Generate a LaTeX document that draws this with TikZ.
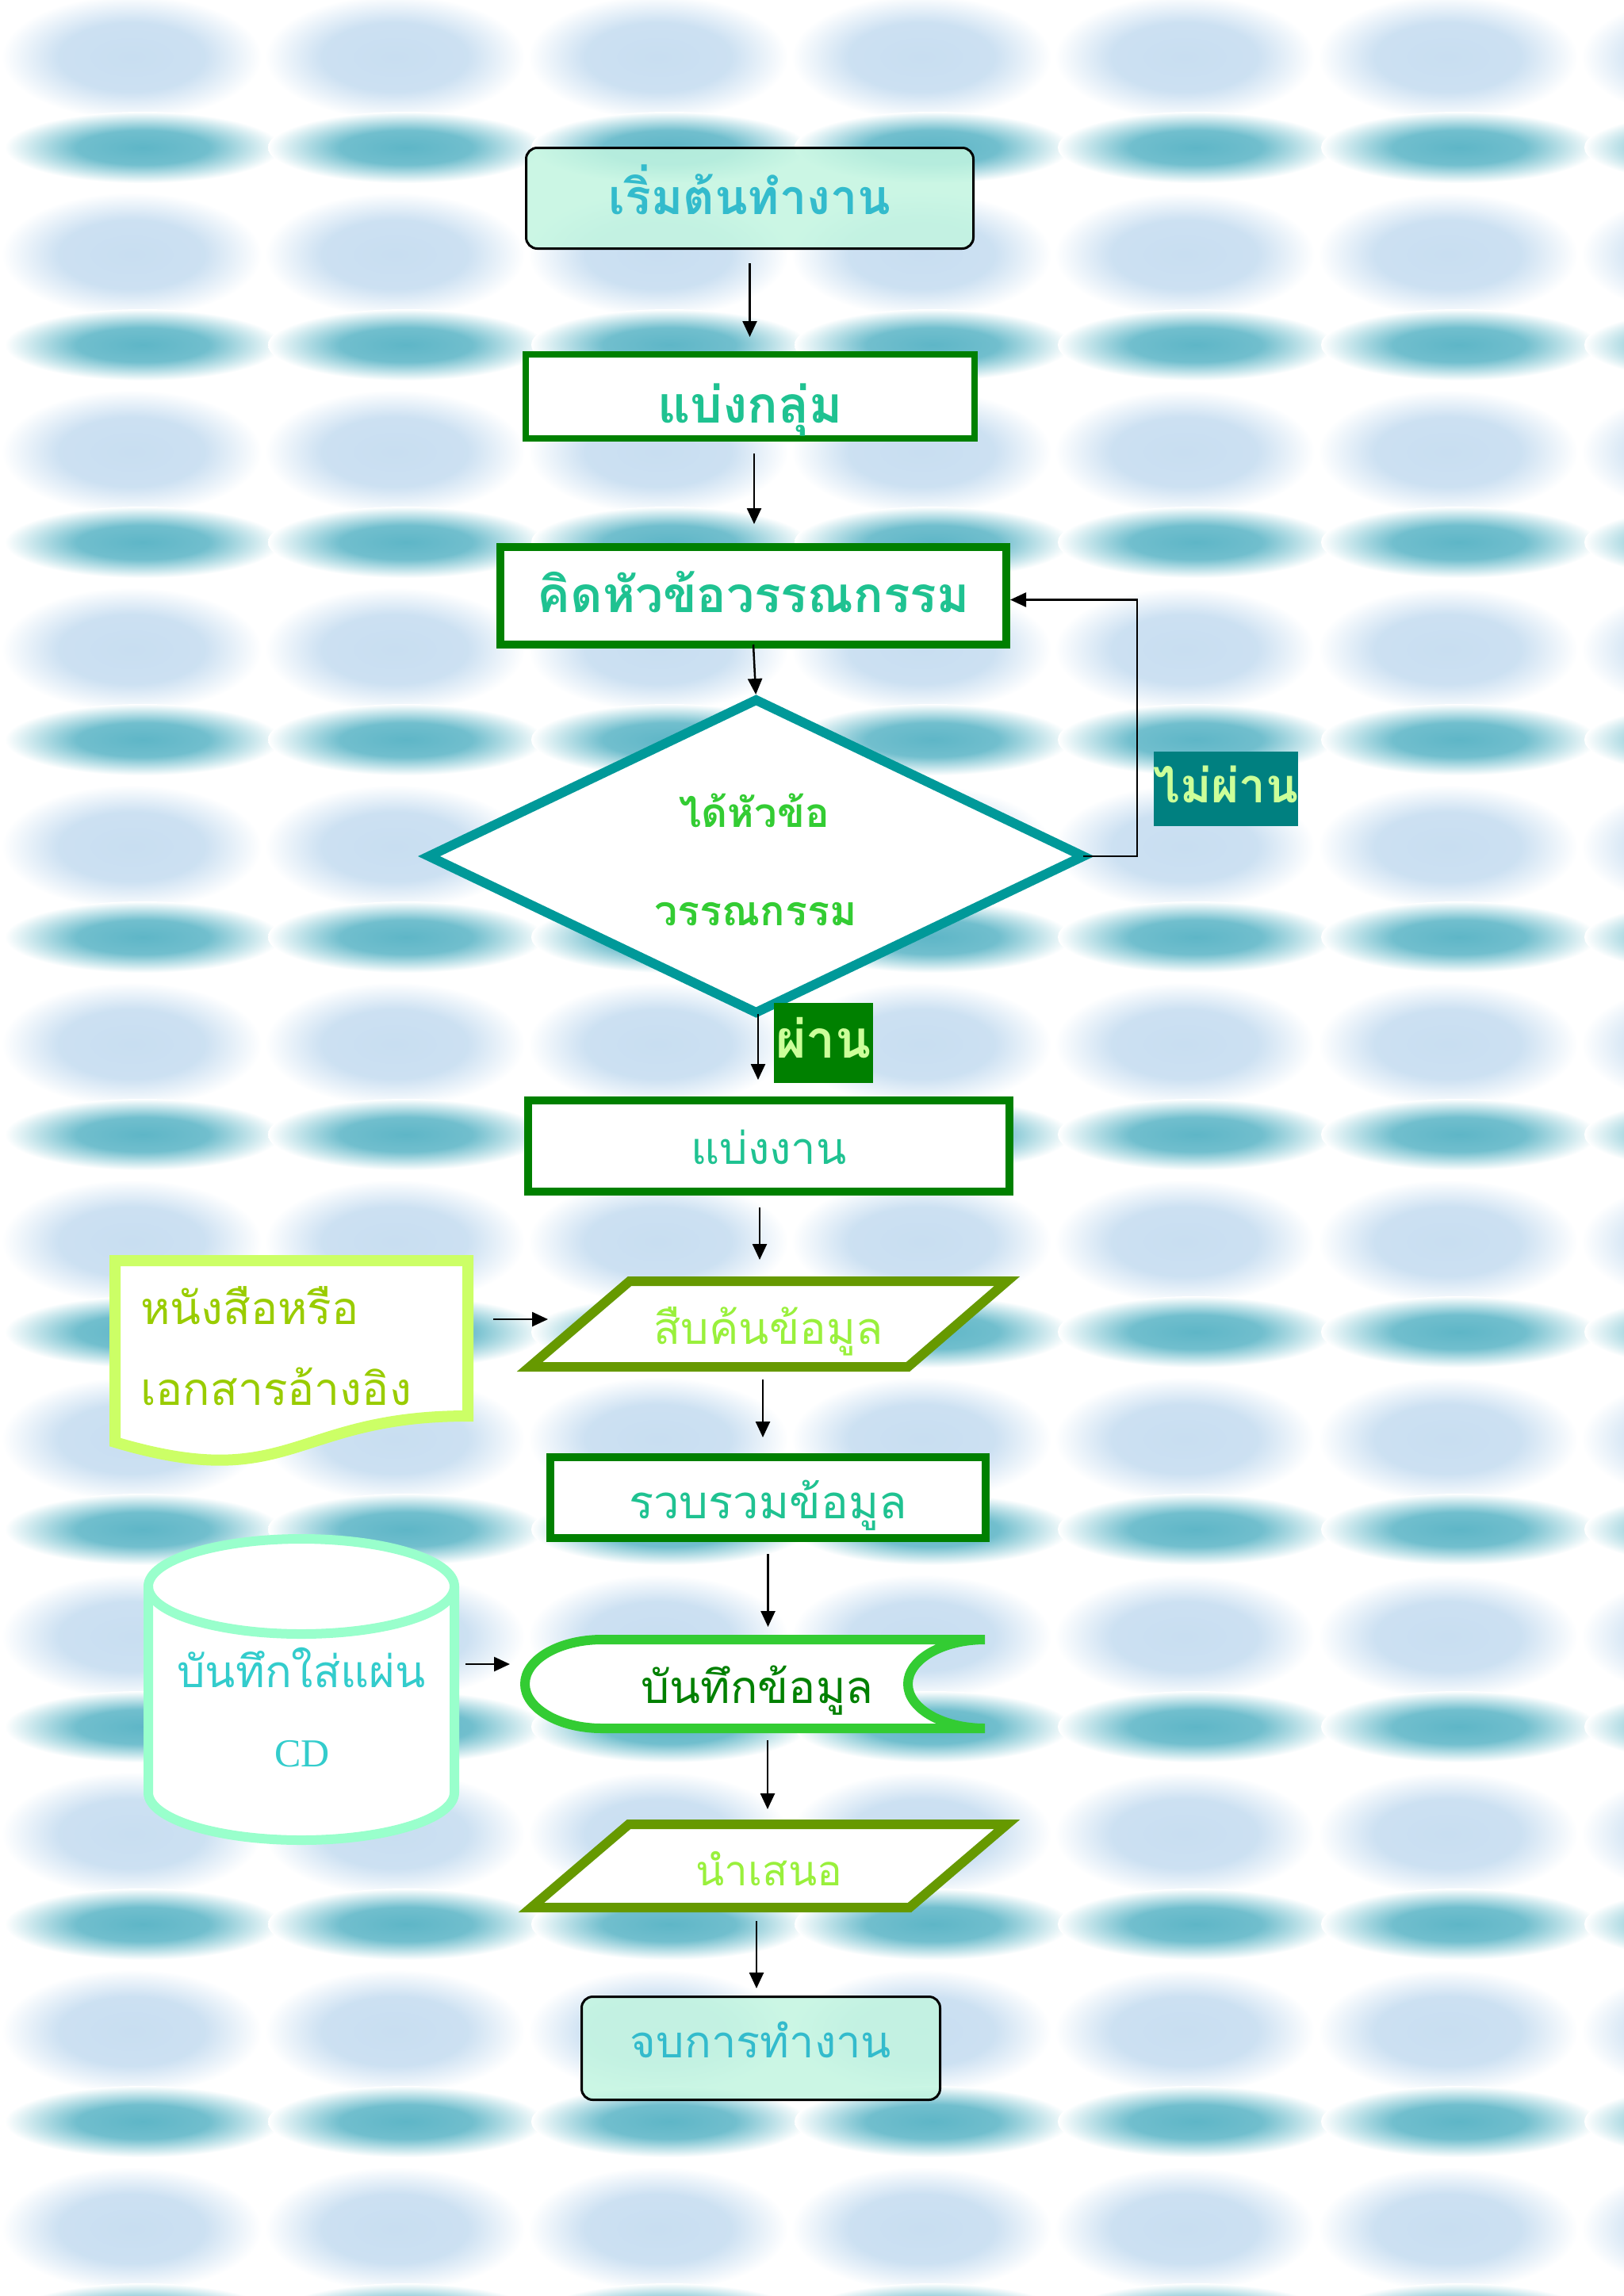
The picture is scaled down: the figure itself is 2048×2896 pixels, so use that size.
\documentclass[tikz,border=0pt]{standalone}
\usepackage{fontspec}
\newfontfamily\thai[Script=Thai]{Loma}
\newfontfamily\serifcd{Liberation Serif}
\usetikzlibrary{shapes.geometric,arrows.meta,calc}
\definecolor{skyA}{HTML}{C8DEF1}
\definecolor{streakA}{HTML}{5EB6C7}
\definecolor{mint}{HTML}{C2F5E0}
\definecolor{startTxt}{HTML}{33BBCC}
\definecolor{boxGreen}{HTML}{008000}
\definecolor{boxTxt}{HTML}{1FC291}
\definecolor{diaC}{HTML}{009999}
\definecolor{diaTxt}{HTML}{33CC33}
\definecolor{labTeal}{HTML}{008080}
\definecolor{labTxt}{HTML}{CCFF99}
\definecolor{oliveC}{HTML}{669900}
\definecolor{paraTxt}{HTML}{99F03C}
\definecolor{docC}{HTML}{CCFF66}
\definecolor{docTxt}{HTML}{99CC00}
\definecolor{storeC}{HTML}{33CC33}
\definecolor{cylC}{HTML}{99FFCC}
\definecolor{cylTxt}{HTML}{33CCCC}
\pgfdeclareradialshading{skyfade}{\pgfpointorigin}{color(0bp)=(skyA); color(14bp)=(skyA!92!white); color(25bp)=(white); color(50bp)=(white)}
\pgfdeclareradialshading{streakfade}{\pgfpointorigin}{color(0bp)=(streakA); color(12bp)=(streakA!88!white); color(25bp)=(white); color(50bp)=(white)}
\tikzset{
  arr/.style={draw=black, line width=1.25pt, -{Triangle[length=10pt,width=9pt]}},
  termbox/.style={draw=black, line width=1.5pt, rounded corners=7pt, fill=mint, fill opacity=0.85, text opacity=1, inner sep=0pt, outer sep=0pt, text depth=0pt},
  procbox/.style={draw=boxGreen, fill=white, inner sep=0pt, outer sep=0pt, text depth=0pt, text=boxTxt},
  labbox/.style={inner sep=0pt, outer sep=0pt, text depth=0pt, text=labTxt},
  shapetxt/.style={inner sep=0pt, outer sep=0pt, text depth=0pt},
  basetxt/.style={inner sep=0pt, outer sep=0pt, anchor=base},
}
\begin{document}
\begin{tikzpicture}[x=0.5pt,y=-0.5pt]
\useasboundingbox (0,0) rectangle (2048,2896);
% background tiles
\fill[white] (0,0) rectangle (2048,2896);
\foreach \i in {0,...,6}{
  \foreach \j in {0,...,11}{
    \shade[shading=skyfade] (332*\i+2,249*\j-6) rectangle (332*\i+330,249*\j+150);
    \shade[shading=streakfade] (332*\i+180,249*\j+186) ellipse [x radius=174, y radius=45];
  }
}
% start
\node[termbox, minimum width=282pt, minimum height=63.5pt, text height=20pt] (start) at (945.5,250)
  {\thai\fontsize{30.5}{36}\selectfont\bfseries\color{startTxt}เริ่มต้นทำงาน};
% group
\node[procbox, line width=4pt, minimum width=283pt, minimum height=53pt, text height=33pt] (group) at (946,500)
  {\thai\fontsize{32}{38}\selectfont\bfseries แบ่งกลุ่ม};
% topic
\node[procbox, line width=5pt, minimum width=319pt, minimum height=61.5pt, text height=20.5pt] (topic) at (950,751.5)
  {\thai\fontsize{31.2}{37}\selectfont\bfseries คิดหัวข้อวรรณกรรม};
% decision
\node[diamond, draw=diaC, fill=white, line width=6pt, minimum width=412.5pt, minimum height=197pt, inner sep=0pt, outer sep=0pt] (dec) at (953.5,1080) {};
\node[basetxt, text=diaTxt] (d1) at (951,1043) {\thai\fontsize{25.5}{30}\selectfont\bfseries ได้หัวข้อ};
\node[basetxt, text=diaTxt] (d2) at (953,1167) {\thai\fontsize{26}{31}\selectfont\bfseries วรรณกรรม};
% labels
\node[labbox, fill=labTeal, minimum width=91pt, minimum height=47pt, text height=17pt] (nopass) at (1546,995)
  {\thai\fontsize{30}{36}\selectfont\bfseries ไม่ผ่าน};
\node[labbox, fill=boxGreen, minimum width=62.5pt, minimum height=50.5pt, text height=18.5pt] (pass) at (1038.5,1315.5)
  {\thai\fontsize{33}{40}\selectfont\bfseries ผ่าน};
% split
\node[procbox, line width=5pt, minimum width=303.5pt, minimum height=57.5pt, text height=22.5pt] (split) at (969.5,1445.5)
  {\thai\fontsize{28}{34}\selectfont แบ่งงาน};
% search parallelogram
\fill[white] (794,1616) -- (1270,1616) -- (1145,1724) -- (668,1724) -- cycle;
\draw[oliveC, line width=6pt, line join=miter] (794,1616) -- (1270,1616) -- (1145,1724) -- (668,1724) -- cycle;
\node[shapetxt, text=paraTxt, minimum width=236pt, minimum height=54pt, text height=25pt] (search) at (969,1670)
  {\thai\fontsize{28}{33}\selectfont สืบค้นข้อมูล};
% document
\fill[white] (145,1590) -- (590,1590) -- (590,1786) .. controls (367.5,1786) and (367.5,1885) .. (145,1819) -- cycle;
\draw[docC, line width=7pt, line join=miter] (145,1590) -- (590,1590) -- (590,1786) .. controls (367.5,1786) and (367.5,1885) .. (145,1819) -- cycle;
\node[shapetxt, minimum width=222.5pt, minimum height=114.5pt] (doc) at (367.5,1704.5) {};
\node[basetxt, anchor=base west, text=docTxt] (doc1) at (177,1670) {\thai\fontsize{28.5}{34}\selectfont หนังสือหรือ};
\node[basetxt, anchor=base west, text=docTxt] (doc2) at (177,1772) {\thai\fontsize{28.5}{34}\selectfont เอกสารอ้างอิง};
% collect
\node[procbox, line width=5pt, minimum width=274.5pt, minimum height=51pt, text height=26pt] (collect) at (968.5,1889)
  {\thai\fontsize{29}{35}\selectfont รวบรวมข้อมูล};
% stored data
\fill[white] (759,2068) -- (1242,2068) arc[start angle=270, end angle=90, x radius=97, y radius=56] -- (759,2180) arc[start angle=90, end angle=270, x radius=97, y radius=56] -- cycle;
\draw[storeC, line width=6pt] (759,2068) -- (1242,2068) arc[start angle=270, end angle=90, x radius=97, y radius=56] -- (759,2180) arc[start angle=90, end angle=270, x radius=97, y radius=56] -- cycle;
\node[shapetxt, text=boxGreen, minimum width=293pt, minimum height=56pt, text height=24pt] (store) at (955,2124)
  {\thai\fontsize{28.5}{34}\selectfont บันทึกข้อมูล};
% cylinder
\fill[white] (187,2001) -- (187,2261) arc[start angle=180, end angle=0, x radius=193, y radius=60] -- (573,2001) -- cycle;
\fill[white] (380,2001) ellipse [x radius=193, y radius=60];
\draw[cylC, line width=6pt] (187,2001) -- (187,2261) arc[start angle=180, end angle=0, x radius=193, y radius=60] -- (573,2001);
\draw[cylC, line width=6pt] (380,2001) ellipse [x radius=193, y radius=60];
\node[shapetxt, minimum width=193pt, minimum height=190pt] (cyl) at (380,2131) {};
\node[basetxt, text=cylTxt] (cyl1) at (380,2128) {\thai\fontsize{28}{34}\selectfont บันทึกใส่แผ่น};
\node[basetxt, text=cylTxt] (cyl2) at (381,2228) {\serifcd\fontsize{25}{30}\selectfont CD};
% present parallelogram
\fill[white] (793,2301) -- (1270,2301) -- (1147,2406) -- (670,2406) -- cycle;
\draw[oliveC, line width=6pt, line join=miter] (793,2301) -- (1270,2301) -- (1147,2406) -- (670,2406) -- cycle;
\node[shapetxt, text=paraTxt, minimum width=236pt, minimum height=52.5pt, text height=24.5pt] (present) at (970,2353.5)
  {\thai\fontsize{26.5}{32}\selectfont นำเสนอ};
% end
\node[termbox, minimum width=226pt, minimum height=65pt, text height=11.5pt] (finish) at (959.5,2583.5)
  {\thai\fontsize{28}{34}\selectfont\color{startTxt}จบการทำงาน};
% connectors
\draw[arr, shorten <=9.25pt, shorten >=11pt] (start.south) -- (start.south |- group.north);
\draw[arr, shorten <=9.5pt, shorten >=14.5pt] ([xshift=2.5pt]group.south) -- ([xshift=2.5pt]group.south |- topic.north);
\draw[arr, shorten >=3.5pt] (topic.south) -- (dec.north);
\draw[arr, shorten <=1pt, shorten >=13pt] ([xshift=1.25pt]dec.south) -- ([xshift=1.25pt]dec.south |- split.north);
\draw[arr, shorten <=10pt, shorten >=13.5pt] ([xshift=-5.75pt]split.south) -- ([xshift=-5.75pt]split.south |- search.north);
\draw[arr, shorten <=8pt, shorten >=12.5pt] ([xshift=-3.5pt]search.south) -- ([xshift=-3.5pt]search.south |- collect.north);
\draw[arr, shorten <=10pt, shorten >=8pt] (collect.south) -- (collect.south |- store.north);
\draw[arr, shorten <=7.5pt, shorten >=9.5pt] ([xshift=6.5pt]store.south) -- ([xshift=6.5pt]store.south |- present.north);
\draw[arr, shorten <=8.5pt, shorten >=5.25pt] ([xshift=-8pt]present.south) -- ([xshift=-8pt]present.south |- finish.north);
\draw[arr] (dec.east) -- ++(68,0) |- ($(topic.east)+(5,5)$);
\draw[arr] ($(doc.east)+(32,-40.5)$) -- ($(search.west)+(-42,-6)$);
\draw[arr] ($(cyl.east)+(14,-32)$) -- ($(store.west)+(-19,-25)$);
\end{tikzpicture}
\end{document}
